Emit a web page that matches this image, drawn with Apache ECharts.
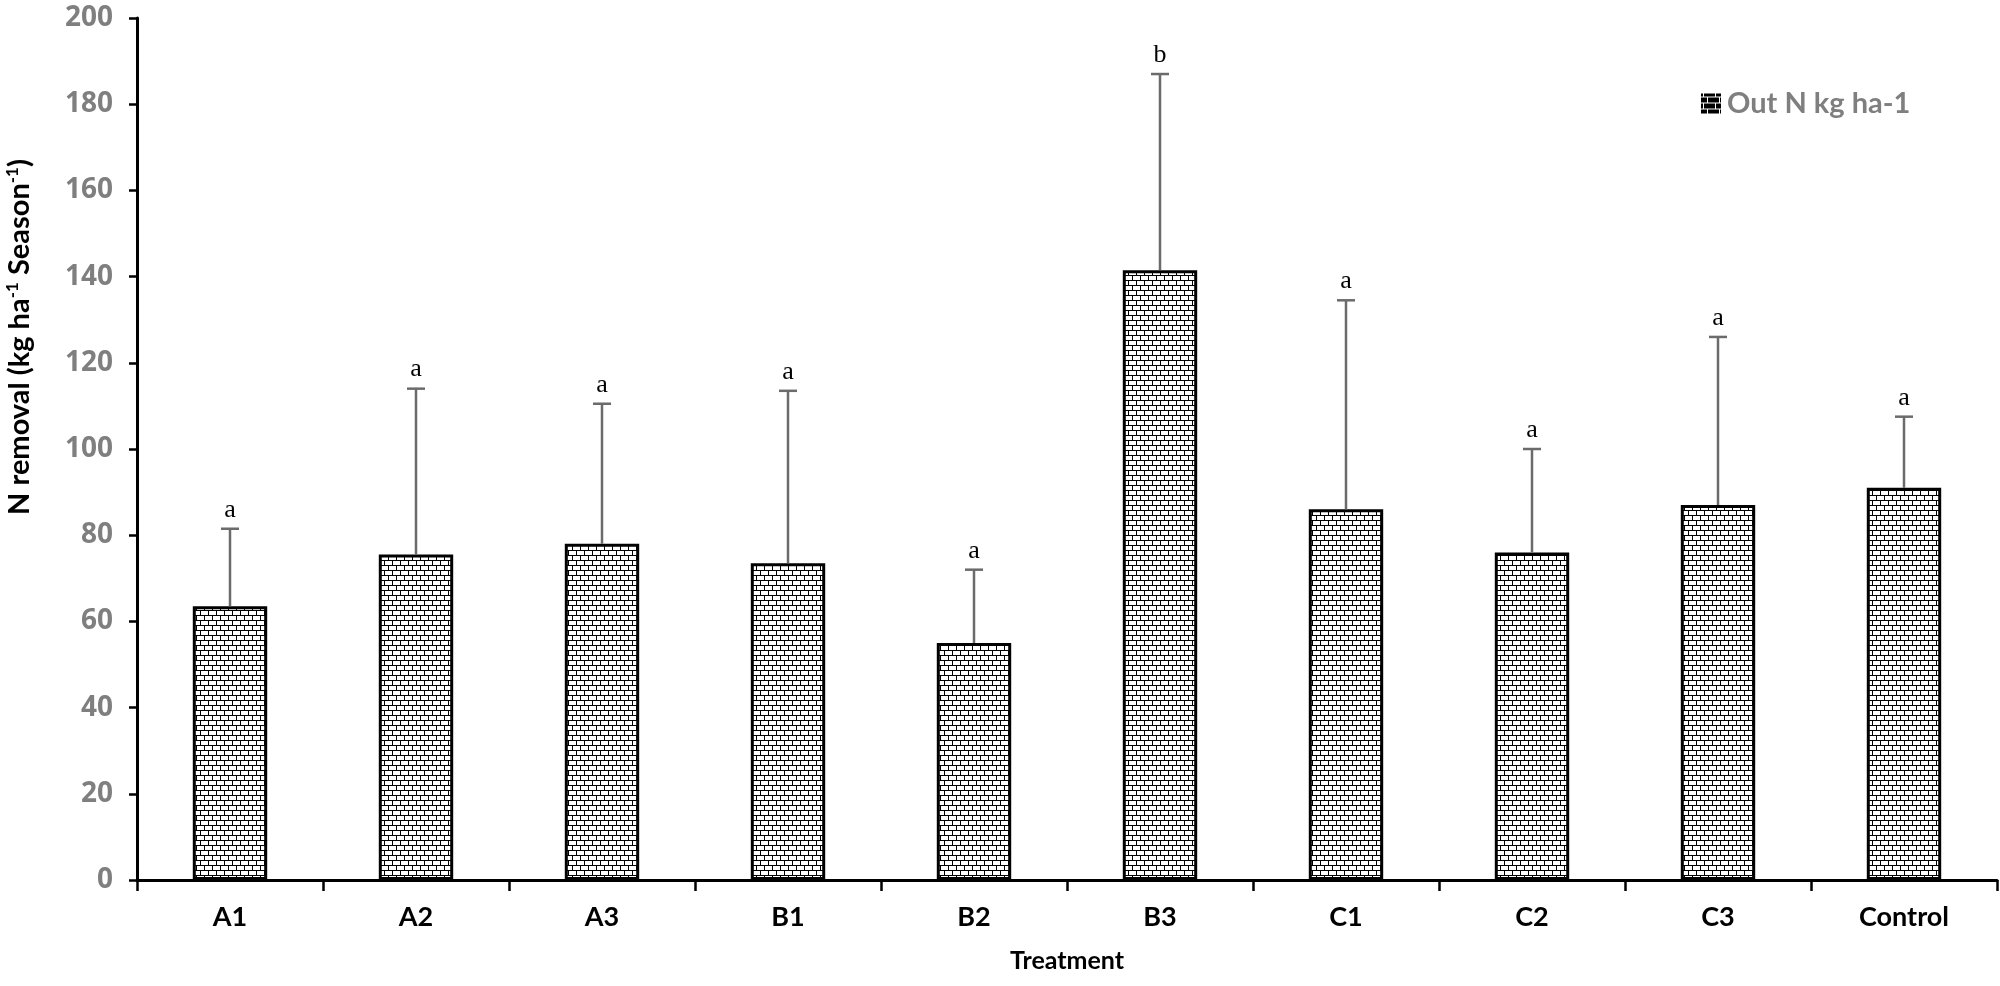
<!DOCTYPE html>
<html><head><meta charset="utf-8">
<script src="https://cdn.jsdelivr.net/npm/echarts@6/dist/echarts.min.js"></script>
<style>html,body{margin:0;padding:0;background:#fff}#c{width:2000px;height:986px}</style>
</head><body><div id="c"></div>
<script>
const categories = ['A1','A2','A3','B1','B2','B3','C1','C2','C3','Control'];
const meanValues = [63.5, 75.5, 78, 73.5, 55, 141.5, 86, 76, 87, 91];
const errorTops = [81.5, 114, 110.5, 113.5, 72, 187, 134.5, 100, 126, 107.5];
const letters = ['a','a','a','a','a','b','a','a','a','a'];
const yTicks = {min: 0, max: 200, interval: 20};
const seriesName = 'Out N kg ha-1';

function brick(bg, fg) {
  const c = document.createElement('canvas');
  c.width = 16; c.height = 10;
  const g = c.getContext('2d');
  g.fillStyle = bg; g.fillRect(0,0,16,10);
  g.fillStyle = fg;
  g.fillRect(0,0,16,1); g.fillRect(0,5,16,1);
  g.fillRect(0,0,1,5); g.fillRect(8,0,1,5);
  g.fillRect(4,5,1,5); g.fillRect(12,5,1,5);
  return c;
}
function brickIcon(bg, fg) {
  const c = document.createElement('canvas');
  c.width = 12; c.height = 12;
  const g = c.getContext('2d');
  g.fillStyle = bg; g.fillRect(0,0,12,12);
  g.fillStyle = fg;
  g.fillRect(0,3,12,1); g.fillRect(0,9,12,1);
  g.fillRect(6,4,1,5); g.fillRect(2,10,1,2); g.fillRect(2,0,1,3);
  return c;
}
const pat = {image: brick('#ffffff', '#000000'), repeat: 'repeat'};
const patInv = {image: brickIcon('#000000', '#ffffff'), repeat: 'repeat'};

const chart = echarts.init(document.getElementById('c'));
const errData = categories.map((c, i) => [i, meanValues[i], errorTops[i], letters[i]]);
chart.setOption({
  animation: false,
  grid: {left: 137, right: 3, top: 18, bottom: 106},
  legend: {
    left: 1696, top: 84, itemWidth: 20, itemHeight: 20, icon: 'rect', itemGap: 6,
    textStyle: {fontFamily: 'Lato', fontWeight: 'bold', fontSize: 29, color: '#7f7f7f', padding: [0,0,0,1]},
    data: [{name: seriesName, itemStyle: {color: patInv, borderWidth: 0}}]
  },
  xAxis: {
    type: 'category', data: categories,
    name: 'Treatment', nameLocation: 'middle', nameGap: 68,
    nameTextStyle: {fontFamily: 'Lato', fontWeight: 'bold', fontSize: 25, color: '#000'},
    axisLine: {lineStyle: {color: '#000', width: 3}},
    axisTick: {show: true, interval: 0, length: 11, lineStyle: {color: '#000', width: 2.5}},
    axisLabel: {interval: 0, margin: 24, fontFamily: 'Lato', fontWeight: 'bold', fontSize: 27, color: '#000'}
  },
  yAxis: {
    type: 'value', min: yTicks.min, max: yTicks.max, interval: yTicks.interval,
    splitLine: {show: false},
    axisLine: {show: true, lineStyle: {color: '#000', width: 3}},
    axisTick: {show: true, length: 8, lineStyle: {color: '#000', width: 2.5}},
    axisLabel: {margin: 24, fontFamily: 'Open Sans', fontWeight: 'bold', fontSize: 28, color: '#7f7f7f'}
  },
  graphic: [{
    type: 'text', x: 20, y: 337, rotation: Math.PI/2,
    style: {
      text: '{b|N removal (kg ha}{s|-1}{b| Season}{s|-1}{b|)}',
      rich: {
        b: {fontFamily: 'Lato', fontWeight: 'bold', fontSize: 29, fill: '#000'},
        s: {fontFamily: 'Lato', fontWeight: 'bold', fontSize: 17, fill: '#000', verticalAlign: 'top', padding: [0,0,14,0]}
      },
      align: 'center', verticalAlign: 'middle'
    }
  }],
  series: [{
    name: seriesName, type: 'bar', data: meanValues, barWidth: '40%',
    itemStyle: {color: pat, borderColor: '#000', borderWidth: 3}
  }, {
    name: 'err', type: 'custom', data: errData, z: 5,
    renderItem: function (params, api) {
      const base = api.coord([api.value(0), api.value(1)]);
      const top = api.coord([api.value(0), api.value(2)]);
      const x = base[0];
      const st = {stroke: '#6b6b6b', lineWidth: 2.5};
      return {type: 'group', children: [
        {type: 'line', shape: {x1: x, y1: base[1], x2: x, y2: top[1]}, style: st},
        {type: 'line', shape: {x1: x - 9, y1: top[1], x2: x + 9, y2: top[1]}, style: st},
        {type: 'text', x: x, y: top[1] - 6, style: {text: letters[params.dataIndex], fontFamily: 'Liberation Serif', fontSize: 26, fill: '#000', align: 'center', verticalAlign: 'bottom'}}
      ]};
    }
  }]
});
</script></body></html>
